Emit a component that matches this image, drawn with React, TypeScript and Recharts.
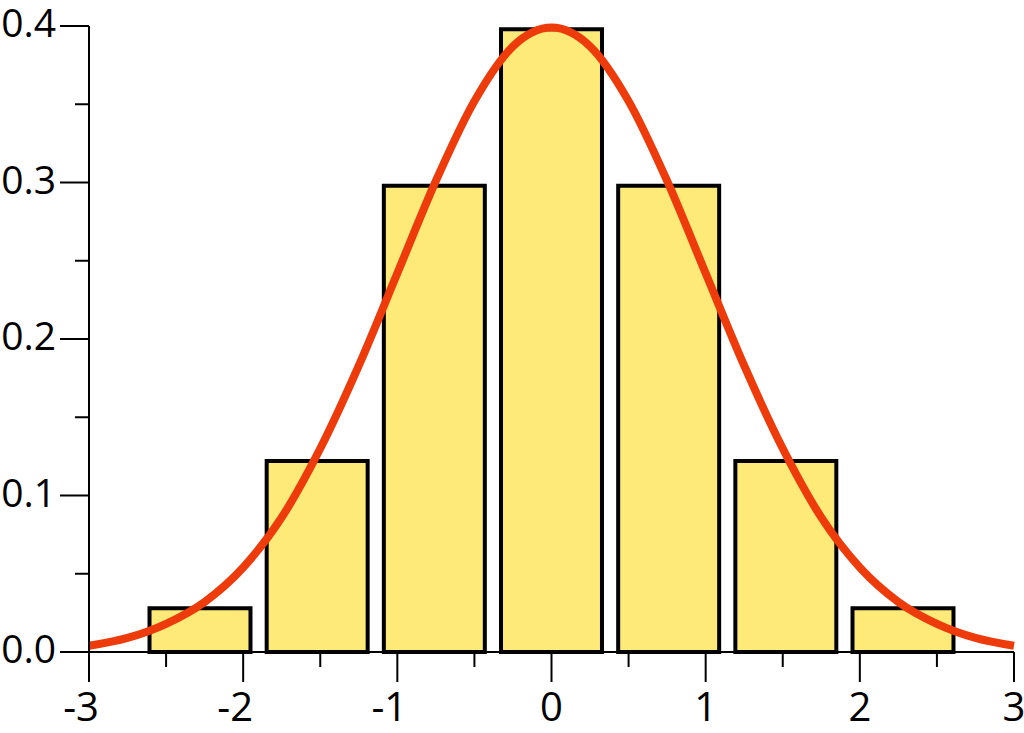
import { ComposedChart, Line, XAxis, YAxis, ReferenceArea } from "recharts";

// histogram bars (bin centres / heights), bin width in x units
const barCenters = [-2.28, -1.52, -0.76, 0, 0.76, 1.52, 2.28];
const barHeights = [0.028, 0.122, 0.298, 0.398, 0.298, 0.122, 0.028];
const binWidth = 0.655;

// bell curve
const curveX = [-3, -2.75, -2.5, -2.25, -2, -1.75, -1.5, -1.25, -1, -0.75, -0.5, -0.25, 0,
  0.25, 0.5, 0.75, 1, 1.25, 1.5, 1.75, 2, 2.25, 2.5, 2.75, 3];
const curveY = [0.004, 0.009, 0.018, 0.032, 0.054, 0.086, 0.13, 0.183, 0.242, 0.301, 0.352, 0.387, 0.399,
  0.387, 0.352, 0.301, 0.242, 0.183, 0.13, 0.086, 0.054, 0.032, 0.018, 0.009, 0.004];

const xTicks = [-3, -2.5, -2, -1.5, -1, -0.5, 0, 0.5, 1, 1.5, 2, 2.5, 3];
const yTicks = [0, 0.05, 0.1, 0.15, 0.2, 0.25, 0.3, 0.35, 0.4];

const FONT = "'Open Sans', sans-serif";

const data = curveX.map((x, i) => ({ x, curve: curveY[i] }));

function YTick(props: any) {
  const { x, y, payload } = props;
  const v = payload.value as number;
  const major = Math.round(v * 100) % 10 === 0;
  return (
    <g>
      <line x1={x - (major ? 29 : 14)} x2={x} y1={y} y2={y} stroke="#000" strokeWidth={2} />
      {major && (
        <text x={x - 33} y={y} dy={11} textAnchor="end" fontFamily={FONT} fontSize={39} fill="#000">
          {v.toFixed(1)}
        </text>
      )}
    </g>
  );
}

function XTick(props: any) {
  const { x, y, payload } = props;
  const v = payload.value as number;
  const major = Number.isInteger(v);
  return (
    <g>
      <line x1={x} x2={x} y1={y} y2={y + (major ? 30 : 15)} stroke="#000" strokeWidth={2} />
      {major && (
        <text x={x} dx={v < 0 ? -8 : 0} y={y + 69} textAnchor="middle" fontFamily={FONT} fontSize={40} fill="#000">
          {String(v)}
        </text>
      )}
    </g>
  );
}

export default function App() {
  return (
    <div style={{ position: "absolute", left: 0, top: 0, width: 1024, height: 733, background: "#fff" }}>
      <ComposedChart width={1024} height={733} data={data} margin={{ top: 26, right: 10, bottom: 0, left: 0 }}>
        <XAxis
          dataKey="x"
          type="number"
          domain={[-3, 3]}
          ticks={xTicks}
          interval={0}
          tickSize={0}
          tickMargin={0}
          tickLine={false}
          axisLine={{ stroke: "#000", strokeWidth: 2 }}
          tick={<XTick />}
          height={81}
        />
        <YAxis
          type="number"
          domain={[0, 0.4]}
          ticks={yTicks}
          interval={0}
          width={89}
          tickSize={0}
          tickMargin={0}
          tickLine={false}
          axisLine={{ stroke: "#000", strokeWidth: 2 }}
          tick={<YTick />}
        />
        {barCenters.map((c, i) => (
          <ReferenceArea
            key={c}
            x1={c - binWidth / 2}
            x2={c + binWidth / 2}
            y1={0}
            y2={barHeights[i]}
            fill="#fdea78"
            fillOpacity={1}
            stroke="#000"
            strokeWidth={4}
          />
        ))}
        <Line
          dataKey="curve"
          type="monotone"
          stroke="#ee3b0c"
          strokeWidth={8}
          dot={false}
          isAnimationActive={false}
        />
      </ComposedChart>
    </div>
  );
}
